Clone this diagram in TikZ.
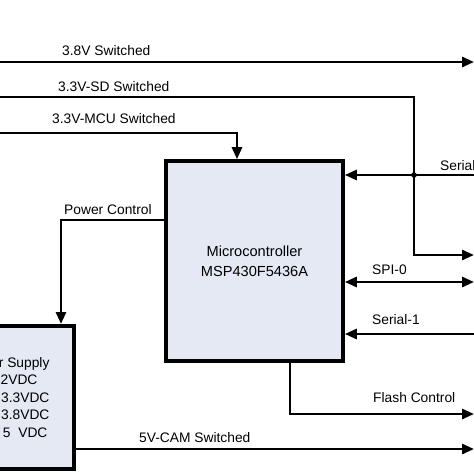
\documentclass[tikz,border=0pt]{standalone}
\usepackage{fontspec}
\setmainfont{Liberation Sans}
\usetikzlibrary{arrows.meta,positioning}
\definecolor{boxfill}{RGB}{228,233,244}

\begin{document}
\begin{tikzpicture}[x=1pt,y=-1pt,
        block/.style={draw, line width=3.6pt, fill=boxfill, align=center},
        lbl/.style={inner sep=0pt, anchor=base west},
        wire/.style={line width=2.8pt},
        arr/.style={wire, -{Triangle[length=12pt,width=10pt]}},
        darr/.style={wire, {Triangle[length=12pt,width=10pt]}-{Triangle[length=12pt,width=10pt]}},
        every node/.style={font=\fontsize{13.8}{17.5}\selectfont}]
    \useasboundingbox (0,0) rectangle (474,474);
    \clip (0,0) rectangle (474,474);

        \node [block, minimum width=177pt, minimum height=200pt,
               font=\fontsize{14.6}{20}\selectfont] (mcu) at (254.5,261)
               {Microcontroller\\MSP430F5436A};
        \node [block, minimum width=200pt, minimum height=143pt, anchor=north east] (supply) at (76,324) {};
        \node [anchor=east, align=right] (supplytext) at ([xshift=-23pt]supply.east)
               {Power Supply\\12VDC\rule{12pt}{0pt}\\3.3VDC\\3.8VDC\\5\ \ VDC\rule{2pt}{0pt}};

        \coordinate (in38) at (-5,62);
        \coordinate (out38) at (474,62);
        \coordinate (insd) at (-5,97);
        \coordinate (outsd) at (474,255);
        \coordinate (inmcu) at (-5,133);
        \coordinate (ser0) at (474,175);
        \coordinate (spi0) at (474,282);
        \coordinate (ser1) at (474,334);
        \coordinate (flash) at (474,414);
        \coordinate (cam) at (474,449);
        \coordinate (pwr) at (61,220);

    \draw[arr] (in38) -- (out38);
    \draw[arr] (insd) -| (414,255) -- (outsd);
    \draw[arr] (inmcu) -| ([xshift=-17.5pt]mcu.north);
    \draw[arr] (ser0) -- (ser0 -| mcu.east);
    \draw[darr] (spi0 -| mcu.east) -- (spi0);
    \draw[arr] (ser1) -- (ser1 -| mcu.east);
    \draw[arr] ([xshift=35.5pt]mcu.south) |- (flash);
    \draw[arr] (pwr -| mcu.west) -- (pwr) -- (pwr |- supply.north);
    \draw[arr] (cam -| supply.east) -- (cam);
    \fill (414,175) circle (2.8pt);

        \node [lbl] (l38) at (62,55) {3.8V Switched};
        \node [lbl] (lsd) at (58,91) {3.3V-SD Switched};
        \node [lbl] (lmcu) at (52,123) {3.3V-MCU Switched};
        \node [lbl] (lpwr) at (64,214) {Power Control};
        \node [lbl] (lser0) at (440,170) {Serial};
        \node [lbl] (lspi) at (372,274) {SPI-0};
        \node [lbl] (lser1) at (372,324) {Serial-1};
        \node [lbl] (lflash) at (373,402) {Flash Control};
        \node [lbl] (lcam) at (139,442) {5V-CAM Switched};
\end{tikzpicture}
\end{document}
